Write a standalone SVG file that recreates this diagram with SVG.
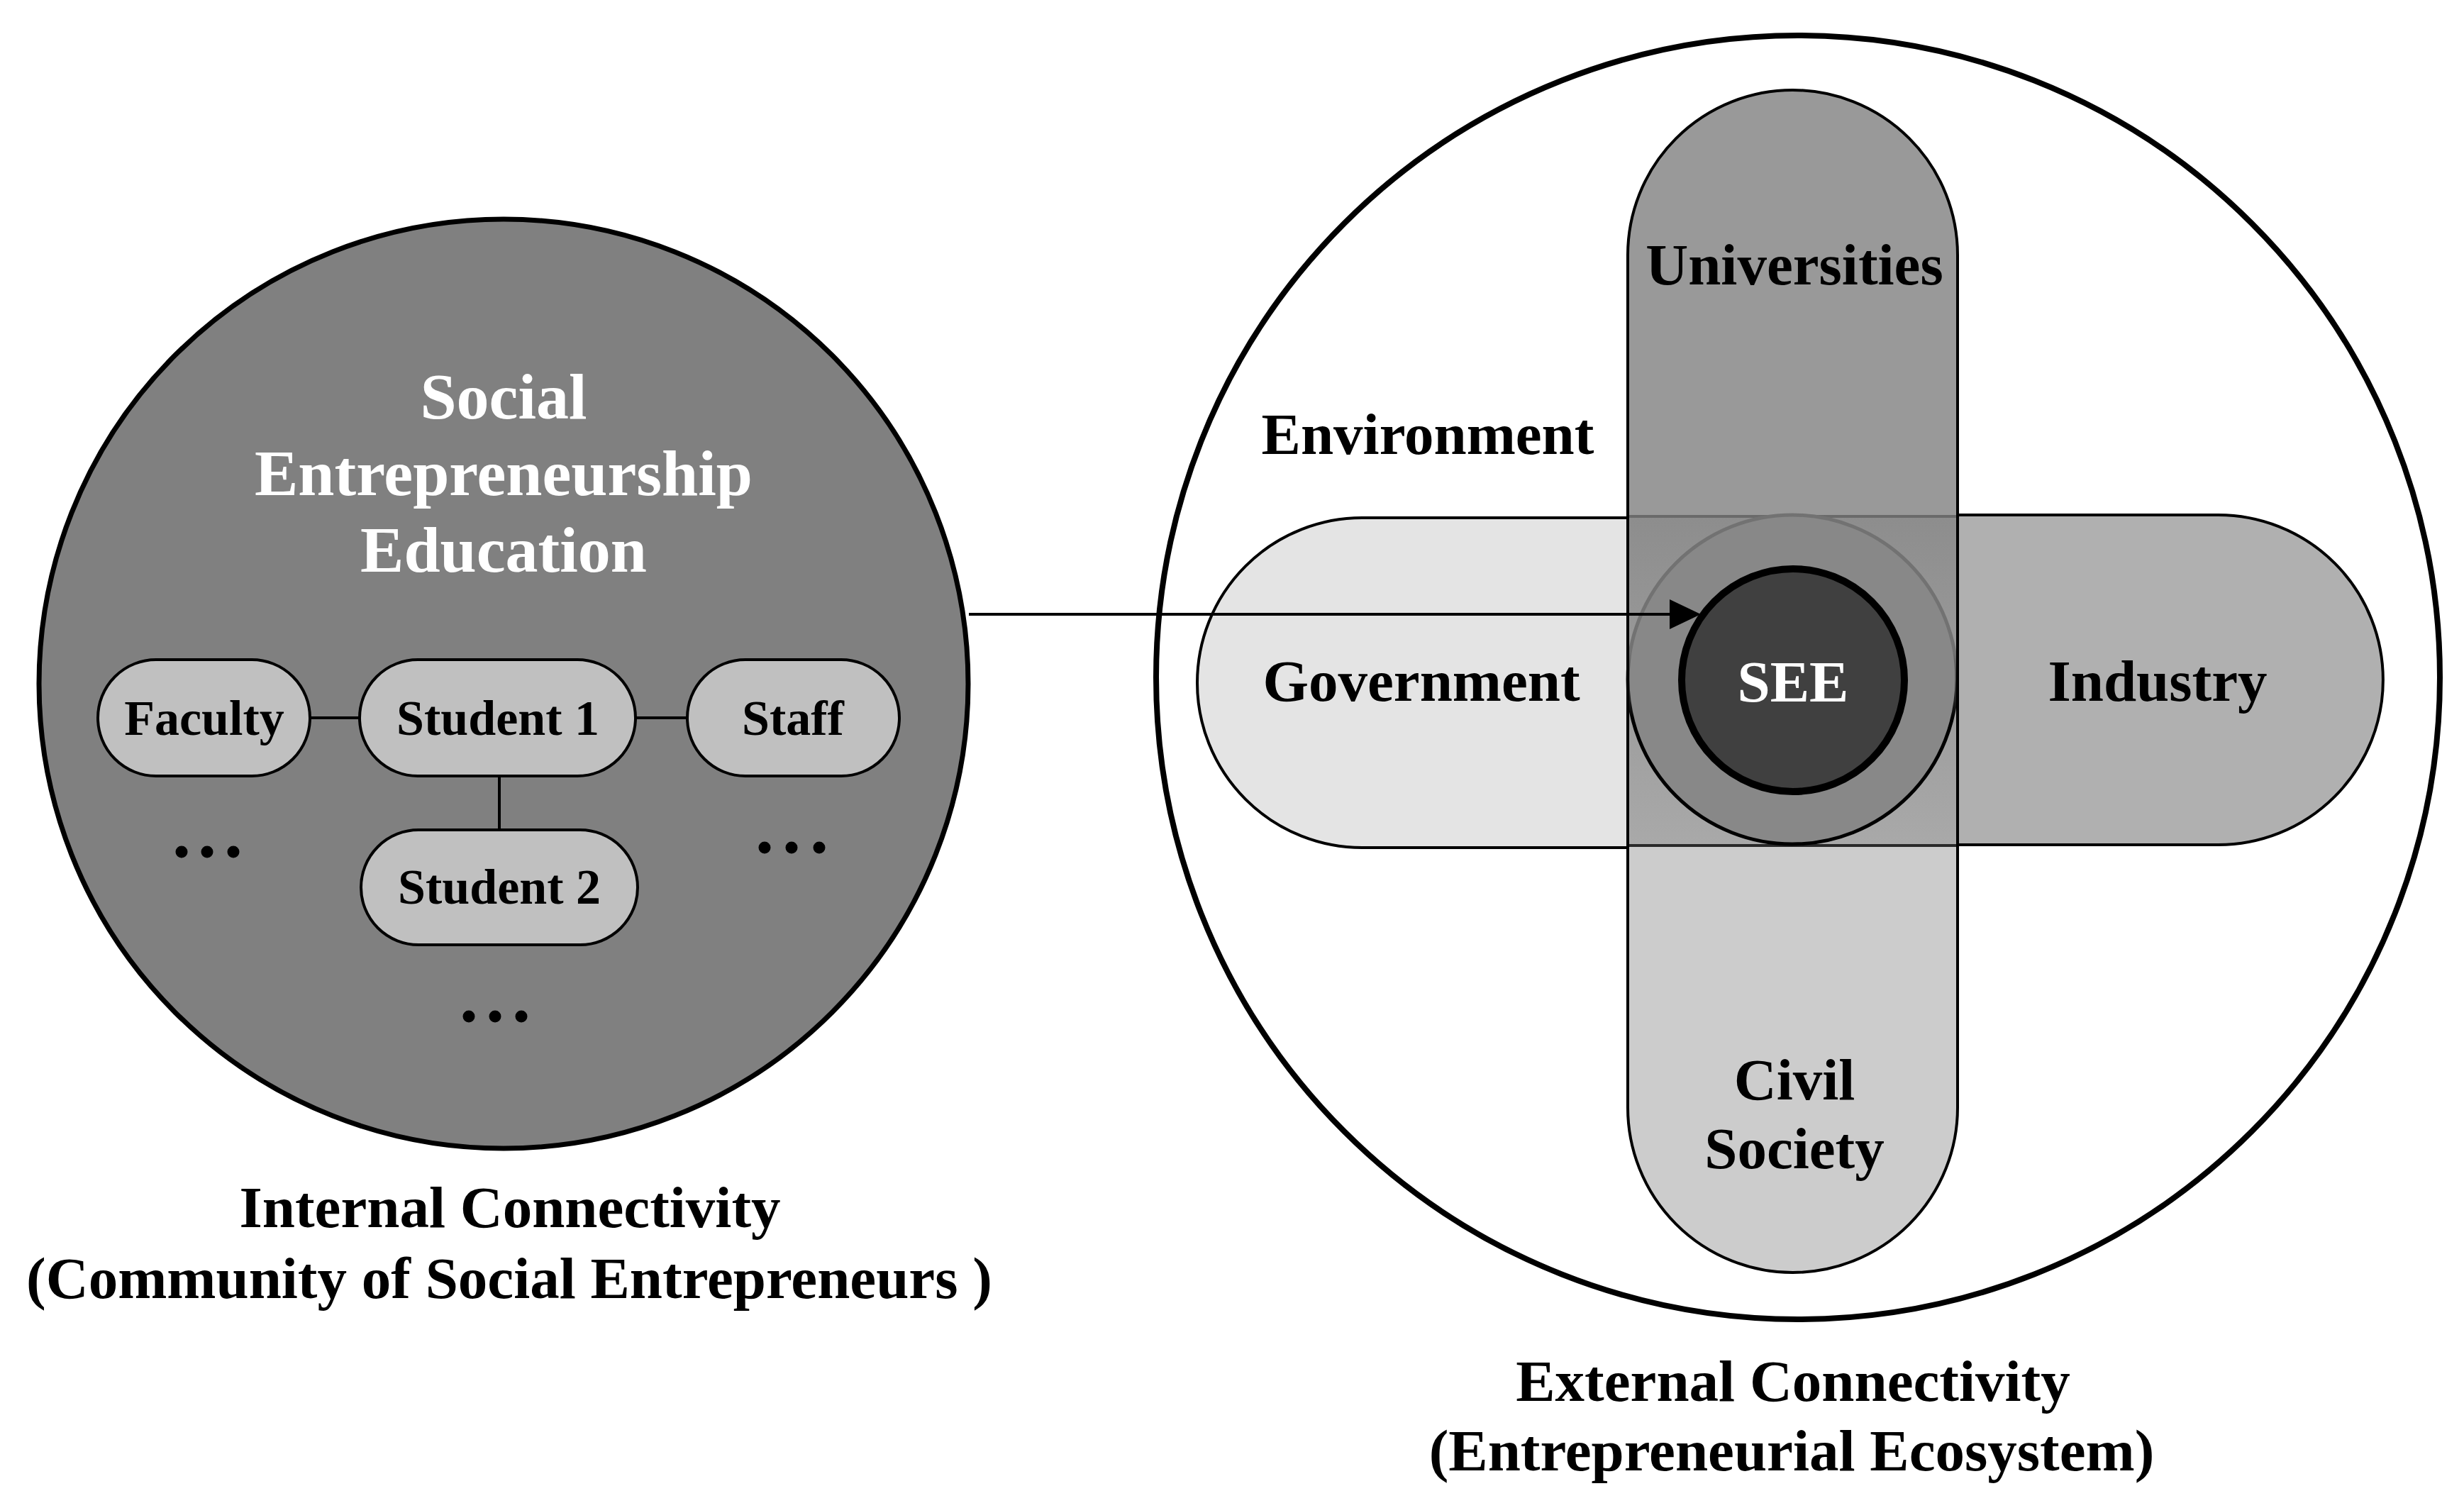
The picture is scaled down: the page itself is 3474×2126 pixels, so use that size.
<svg xmlns="http://www.w3.org/2000/svg" width="3474" height="2126" viewBox="0 0 3474 2126">
<style>
  text { font-family: "Liberation Serif", "Times New Roman", serif; font-weight: bold; text-anchor: middle; }
  .lbl { font-size: 83px; fill: #000; }
  .pilltxt { font-size: 70px; fill: #000; }
  .title { font-size: 92px; fill: #fff; }
  .pill { fill: #c0c0c0; stroke: #000; stroke-width: 4; }
  .conn { stroke: #000; stroke-width: 4; fill: none; }
  .dot { fill: #000; }
</style>
<defs>
  <linearGradient id="sq" x1="0" y1="0" x2="0" y2="1">
    <stop offset="0" stop-color="#8d8d8d"/>
    <stop offset="1" stop-color="#a9a9a9"/>
  </linearGradient>
  <linearGradient id="ringStroke" x1="0" y1="0" x2="0" y2="1">
    <stop offset="0" stop-color="#727272"/>
    <stop offset="0.42" stop-color="#727272"/>
    <stop offset="0.62" stop-color="#000"/>
    <stop offset="1" stop-color="#000"/>
  </linearGradient>
  <marker id="arrow" markerUnits="userSpaceOnUse" viewBox="0 0 44 42" refX="36" refY="21" markerWidth="44" markerHeight="42" orient="auto">
    <path d="M0,0 L44,21 L0,42 z" fill="#000"/>
  </marker>
</defs>
<rect width="3474" height="2126" fill="#fff"/>

<!-- Left: Internal connectivity -->
<g id="sse-circle">
  <circle cx="710" cy="964" r="655" fill="#808080" stroke="#000" stroke-width="7"/>
  <text class="title" x="710" y="590">Social</text>
  <text class="title" x="710" y="698">Entrepreneurship</text>
  <text class="title" x="710" y="806">Education</text>
</g>

<g id="internal-connectors">
  <line class="conn" x1="437" y1="1012" x2="507" y2="1012"/>
  <line class="conn" x1="896" y1="1012" x2="969" y2="1012"/>
  <line class="conn" x1="704" y1="1094" x2="704" y2="1170"/>
</g>

<g id="faculty">
  <rect class="pill" x="138" y="930" width="299" height="164" rx="82"/>
  <text class="pilltxt" x="288" y="1036">Faculty</text>
</g>
<g id="student1">
  <rect class="pill" x="507" y="930" width="389" height="164" rx="82"/>
  <text class="pilltxt" x="702" y="1036">Student 1</text>
</g>
<g id="staff">
  <rect class="pill" x="969" y="930" width="299" height="164" rx="82"/>
  <text class="pilltxt" x="1118" y="1036">Staff</text>
</g>
<g id="student2">
  <rect class="pill" x="509" y="1170" width="390" height="162" rx="81"/>
  <text class="pilltxt" x="704" y="1274">Student 2</text>
</g>

<g id="dots">
  <circle class="dot" cx="256" cy="1201" r="8.5"/>
  <circle class="dot" cx="292" cy="1201" r="8.5"/>
  <circle class="dot" cx="329" cy="1201" r="8.5"/>
  <circle class="dot" cx="1078" cy="1195" r="8.5"/>
  <circle class="dot" cx="1116" cy="1195" r="8.5"/>
  <circle class="dot" cx="1155" cy="1195" r="8.5"/>
  <circle class="dot" cx="661" cy="1433" r="8.5"/>
  <circle class="dot" cx="698" cy="1433" r="8.5"/>
  <circle class="dot" cx="735" cy="1433" r="8.5"/>
</g>

<g id="internal-caption">
  <text class="lbl" x="719" y="1730">Internal Connectivity</text>
  <text class="lbl" x="718" y="1830">(Community of Social Entrepreneurs )</text>
</g>

<!-- Right: External connectivity -->
<g id="environment">
  <circle cx="2535" cy="955" r="905" fill="#fff" stroke="#000" stroke-width="8"/>
  <text class="lbl" x="2013" y="640">Environment</text>
</g>

<g id="government">
  <path d="M2527,730 L1920.5,730 A232.5,232.5 0 0 0 1920.5,1195 L2527,1195 Z" fill="#e4e4e4" stroke="#000" stroke-width="4"/>
  <text class="lbl" x="2004" y="988">Government</text>
</g>
<g id="industry">
  <path d="M2527,726 L3127.5,726 A232.5,232.5 0 0 1 3127.5,1191 L2527,1191 Z" fill="#b0b0b0" stroke="#000" stroke-width="4"/>
  <text class="lbl" x="3042" y="988">Industry</text>
</g>
<g id="universities">
  <path d="M2295,960 L2295,359.5 A232.5,232.5 0 0 1 2760,359.5 L2760,960 Z" fill="#999999"/>
  <text class="lbl" x="2530" y="401">Universities</text>
</g>
<g id="civil-society">
  <path d="M2295,960 L2295,1561.5 A232.5,232.5 0 0 0 2760,1561.5 L2760,960 Z" fill="#cccccc"/>
  <text class="lbl" x="2530" y="1550">Civil</text>
  <text class="lbl" x="2530" y="1647">Society</text>
</g>

<g id="overlap">
  <rect x="2295" y="728" width="465" height="464" fill="url(#sq)"/>
  <line x1="2295" y1="728" x2="2760" y2="728" stroke="#6a6a6a" stroke-width="4"/>
  <line x1="2295" y1="1192" x2="2760" y2="1192" stroke="#2a2a2a" stroke-width="4"/>
  <circle cx="2527" cy="958" r="232" fill="#888888" stroke="url(#ringStroke)" stroke-width="5"/>
  <path d="M2295,960 L2295,359.5 A232.5,232.5 0 0 1 2760,359.5 L2760,1561.5 A232.5,232.5 0 0 1 2295,1561.5 Z" fill="none" stroke="#000" stroke-width="4"/>
</g>

<g id="see">
  <circle cx="2528" cy="959" r="157" fill="#404040" stroke="#000" stroke-width="10"/>
  <text x="2528" y="989" style="font-size:83px; fill:#fff;">SEE</text>
</g>

<g id="connectors">
  <line x1="1366" y1="866" x2="2390" y2="866" stroke="#000" stroke-width="4" marker-end="url(#arrow)"/>
</g>

<g id="external-caption">
  <text class="lbl" x="2528" y="1975">External Connectivity</text>
  <text class="lbl" x="2526" y="2073">(Entrepreneurial Ecosystem)</text>
</g>
</svg>
